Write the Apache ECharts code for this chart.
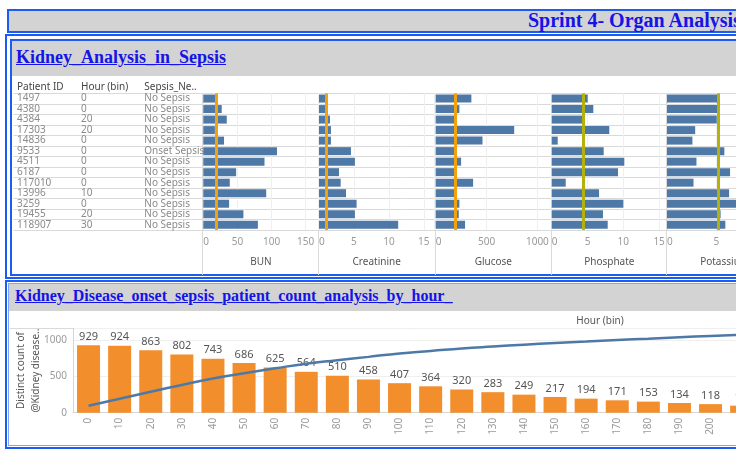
<!DOCTYPE html>
<html>
<head>
<meta charset="utf-8">
<script src="https://cdn.jsdelivr.net/npm/echarts@6/dist/echarts.min.js"></script>
<style>
  html, body { margin: 0; padding: 0; background: #fff; }
  body { width: 736px; height: 454px; position: relative; overflow: hidden; }
  .box { position: absolute; box-sizing: border-box; }
  .frame { border: 2px solid #1c5cf2; }
  .band { background: #d3d3d3; }
  .ttl {
    position: absolute;
    font-family: 'Liberation Serif', 'Times New Roman', serif;
    font-weight: bold;
    color: #1414e6;
    white-space: pre;
  }
  /* wider than the window on purpose: the dashboard is cut at the right edge */
  #chart { position: absolute; left: 0; top: 0; width: 800px; height: 454px; }
</style>
</head>
<body>
<!-- dashboard header -->
<div class="box frame band" style="left:7px;top:9px;width:800px;height:24px;"></div>
<div class="ttl" style="left:528px;top:9px;font-size:20px;line-height:22px;">Sprint 4- Organ Analysis</div>

<!-- kidney analysis panel -->
<div class="box frame" style="left:5px;top:34px;width:800px;height:245px;"></div>
<div class="box frame" style="left:10px;top:39px;width:800px;height:237px;"></div>
<div class="box band" style="left:12px;top:41px;width:800px;height:35px;"></div>
<div class="ttl" style="left:16px;top:47px;font-size:18px;line-height:20px;text-decoration:underline;">Kidney_Analysis_in_Sepsis</div>

<!-- onset by hour panel -->
<div class="box frame" style="left:5px;top:280px;width:800px;height:169px;"></div>
<div class="box" style="left:8px;top:283px;width:800px;height:163px;border:1px solid #7fa4ff;"></div>
<div class="box band" style="left:9px;top:284px;width:800px;height:27px;"></div>
<div class="ttl" style="left:15px;top:287px;font-size:16px;line-height:18px;text-decoration:underline;">Kidney_Disease_onset_sepsis_patient_count_analysis_by_hour_</div>

<div id="chart"></div>
<script>
// patients table
const patientIds = ['1497', '4380', '4384', '17303', '14836', '9533', '4511', '6187', '117010', '13996', '3259', '19455', '118907']
const hourBins = [0, 0, 20, 20, 0, 0, 0, 0, 0, 10, 0, 20, 30]
const sepsisStatus = ['No Sepsis', 'No Sepsis', 'No Sepsis', 'No Sepsis', 'No Sepsis', 'Onset Sepsis', 'No Sepsis',
  'No Sepsis', 'No Sepsis', 'No Sepsis', 'No Sepsis', 'No Sepsis', 'No Sepsis']
const tableHeaders = ['Patient ID', 'Hour (bin)', 'Sepsis_Ne..']

// lab values per patient
const bunValues = [17.2, 27, 34.4, 17, 30.4, 108, 89.7, 48.1, 38.8, 92.2, 37.8, 58.8, 80]
const creatinineValues = [0.86, 1.24, 1.57, 1.71, 1.71, 4.57, 5.14, 2.86, 3.1, 3.86, 5.38, 5.14, 11.33]
const glucoseValues = [351, 233, 188, 772, 460, 185, 250, 190, 368, 186, 233, 227, 289]
const phosphateValues = [5.03, 5.81, 4.33, 8.04, 0.84, 7.26, 10.14, 9.26, 1.96, 6.61, 10.0, 7.16, 7.82]
const potassiumValues = [5.1, 5.1, 5.05, 2.86, 2.58, 5.82, 2.99, 6.4, 2.69, 6.3, 7.4, 5.44, 5.92]

const measureNames = ['BUN', 'Creatinine', 'Glucose', 'Phosphate', 'Potassium']
const referenceValues = [19, 1.0, 191, 4.41, 5.2]
const axisMax = [169, 16.5, 1134, 16.1, 11.7]
const axisStep = [50, 5, 500, 5, 5]

// onset count by hour
const hourBinLabels = ['0', '10', '20', '30', '40', '50', '60', '70', '80', '90', '100', '110', '120', '130',
  '140', '150', '160', '170', '180', '190', '200', '210']
const patientCounts = [929, 924, 863, 802, 743, 686, 625, 564, 510, 458, 407, 364, 320, 283, 249, 217, 194, 171,
  153, 134, 118, 97]
const trendLine = [97, 193, 288, 383, 473, 543, 612, 676, 723, 770, 818, 851, 886, 913, 938, 961, 982, 1003,
  1021, 1040, 1058, 1074]

const measureSeries = [bunValues, creatinineValues, glucoseValues, phosphateValues, potassiumValues]
const refColors = ['#f2a20c', '#f2a20c', '#f2a20c', '#b3b10d', '#b3b10d']

const font = 'Noto Sans'
const rowTop = 93.3
const rowHeight = 136.7
const panelLeft = [203.3, 319, 435.7, 551.7, 667]
const panelWidth = 115.3
const colX = [17, 81, 144.3]
const plain = (v) => String(v)

const chart = echarts.init(document.getElementById('chart'))

const grids = [{ left: 13.5, top: rowTop, width: 780, height: rowHeight, outerBoundsMode: 'none' }]
const xAxes = [{ gridIndex: 0, type: 'value', show: false }]
const yAxes = [{
  gridIndex: 0,
  type: 'category',
  inverse: true,
  data: patientIds,
  axisLine: { show: false },
  axisTick: { show: false, interval: 0 },
  splitLine: { show: true, interval: 0, lineStyle: { color: '#dadada' } },
  axisLabel: {
    inside: true,
    margin: 3.5,
    interval: 0,
    color: '#8a8a8a',
    fontSize: 10,
    fontFamily: font,
    formatter: (v, i) => `{a|${v}}{b|${hourBins[i]}}{c|${sepsisStatus[i]}}`,
    rich: {
      a: { width: colX[1] - colX[0], fontSize: 10, fontFamily: font, color: '#8a8a8a' },
      b: { width: colX[2] - colX[1], fontSize: 10, fontFamily: font, color: '#8a8a8a' },
      c: { fontSize: 10, fontFamily: font, color: '#8a8a8a' },
    },
  },
}]
const series = []

measureNames.forEach((name, i) => {
  grids.push({ left: panelLeft[i], top: rowTop, width: panelWidth, height: rowHeight, outerBoundsMode: 'none' })
  xAxes.push({
    gridIndex: i + 1,
    type: 'value',
    min: 0,
    max: axisMax[i],
    interval: axisStep[i],
    axisLine: { show: false },
    axisTick: { show: false },
    splitLine: { show: true, lineStyle: { color: '#efefef' } },
    axisLabel: {
      color: '#9a9a9a', fontSize: 10, fontFamily: font, margin: 7,
      showMaxLabel: false, alignMinLabel: 'left', formatter: plain,
    },
    name: name,
    nameLocation: 'middle',
    nameGap: 27,
    nameMoveOverlap: false,
    nameTextStyle: { color: '#555', fontSize: 10, fontFamily: font },
  })
  yAxes.push({ gridIndex: i + 1, type: 'category', inverse: true, data: patientIds, show: false })
  series.push({
    type: 'bar',
    xAxisIndex: i + 1,
    yAxisIndex: i + 1,
    data: measureSeries[i],
    barWidth: 8,
    itemStyle: { color: '#4e79a7' },
    markLine: {
      silent: true,
      symbol: 'none',
      label: { show: false },
      lineStyle: { color: refColors[i], width: 3, type: 'solid' },
      data: [{ xAxis: referenceValues[i] }],
    },
  })
})

// hour chart
grids.push({ left: 73, top: 328.3, width: hourBinLabels.length * 31.1, height: 84.4, outerBoundsMode: 'none' })
xAxes.push({
  gridIndex: 6,
  type: 'category',
  data: hourBinLabels,
  axisLine: { lineStyle: { color: '#d5d5d5' } },
  axisTick: { show: false },
  axisLabel: { rotate: 90, interval: 0, margin: 5, color: '#9a9a9a', fontSize: 10, fontFamily: font },
})
yAxes.push({
  gridIndex: 6,
  type: 'value',
  min: 0,
  max: 1164,
  interval: 500,
  axisLine: { show: true, lineStyle: { color: '#d5d5d5' } },
  axisTick: { show: false },
  splitLine: { lineStyle: { color: '#efefef' } },
  axisLabel: { color: '#9a9a9a', fontSize: 10, fontFamily: font, margin: 6, showMaxLabel: false, formatter: plain },
  name: 'Distinct count of\n@Kidney disease..',
  nameLocation: 'middle',
  nameRotate: 90,
  nameGap: 29,
  nameMoveOverlap: false,
  nameTextStyle: { color: '#555', fontSize: 10, fontFamily: font, lineHeight: 15 },
})
series.push({
  type: 'bar',
  xAxisIndex: 6,
  yAxisIndex: 6,
  data: patientCounts,
  barWidth: 23,
  itemStyle: { color: '#f28e2b' },
  label: { show: true, position: 'top', distance: 3, color: '#555', fontSize: 11, fontFamily: font },
})
series.push({
  type: 'line',
  xAxisIndex: 6,
  yAxisIndex: 6,
  data: trendLine,
  smooth: true,
  showSymbol: false,
  z: 5,
  lineStyle: { color: '#4e79a7', width: 2.5 },
})

const graphics = []
tableHeaders.forEach((t, i) => {
  graphics.push({
    type: 'text', x: colX[i], y: 86.7,
    style: { text: t, fill: '#444', font: `10px "${font}"`, verticalAlign: 'middle' },
  })
})
panelLeft.forEach((x) => {
  graphics.push({
    type: 'line', silent: true,
    shape: { x1: Math.round(x) - 0.5, y1: rowTop, x2: Math.round(x) - 0.5, y2: 275 },
    style: { stroke: '#dadada', lineWidth: 1 },
  })
})
graphics.push({
  type: 'line', silent: true,
  shape: { x1: 10, y1: 328.5, x2: 800, y2: 328.5 },
  style: { stroke: '#dadada', lineWidth: 1 },
})
graphics.push({
  type: 'text', x: 600, y: 321,
  style: { text: 'Hour (bin)', fill: '#555', font: `10px "${font}"`, align: 'center', verticalAlign: 'middle' },
})

chart.setOption({
  animation: false,
  backgroundColor: 'transparent',
  grid: grids,
  xAxis: xAxes,
  yAxis: yAxes,
  series: series,
  graphic: graphics,
})
</script>
</body>
</html>
